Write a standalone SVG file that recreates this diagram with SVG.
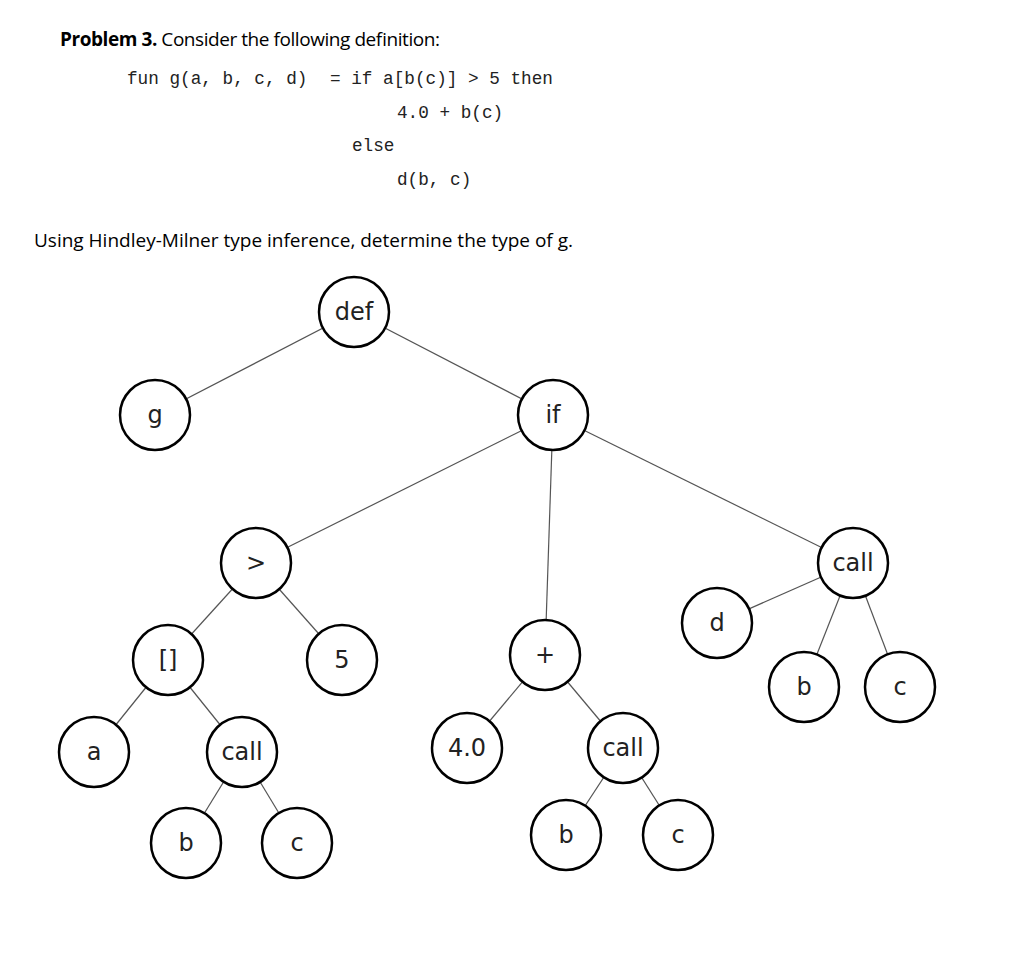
<svg xmlns="http://www.w3.org/2000/svg" width="1024" height="972" viewBox="0 0 1024 972">
<style>
.n circle{fill:#fff;stroke:#000;stroke-width:2.5}
.n text{font-family:"DejaVu Sans",sans-serif;font-size:24px;text-anchor:middle;fill:#222}
.code{font-family:"Liberation Mono",monospace;font-size:17.7px;fill:#222}
.hd{font-family:"Open Sans","Liberation Sans",sans-serif;font-size:19px;fill:#000}
#edges line{stroke:#555;stroke-width:1.2}
</style>
<rect width="1024" height="972" fill="#fff"/>
<text class="hd" x="60" y="46" textLength="380"><tspan font-weight="bold">Problem 3.</tspan> Consider the following definition:</text>
<text class="code" x="127" y="84">fun g(a, b, c, d)</text>
<text class="code" x="330" y="84">= if a[b(c)] &gt; 5 then</text>
<text class="code" x="397" y="118">4.0 + b(c)</text>
<text class="code" x="352" y="151">else</text>
<text class="code" x="397" y="185">d(b, c)</text>
<text class="hd" x="34" y="247">Using Hindley-Milner type inference, determine the type of g.</text>
<g id="edges">
<line x1="354" y1="312" x2="155" y2="415"/>
<line x1="354" y1="312" x2="553" y2="415"/>
<line x1="553" y1="415" x2="256" y2="563"/>
<line x1="553" y1="415" x2="545" y2="655"/>
<line x1="553" y1="415" x2="853" y2="563"/>
<line x1="256" y1="563" x2="168" y2="660"/>
<line x1="256" y1="563" x2="342" y2="660"/>
<line x1="168" y1="660" x2="94" y2="752"/>
<line x1="168" y1="660" x2="242" y2="752"/>
<line x1="242" y1="752" x2="186" y2="843"/>
<line x1="242" y1="752" x2="297" y2="843"/>
<line x1="545" y1="655" x2="467" y2="748"/>
<line x1="545" y1="655" x2="623" y2="748"/>
<line x1="623" y1="748" x2="566" y2="835"/>
<line x1="623" y1="748" x2="678" y2="835"/>
<line x1="853" y1="563" x2="717" y2="623"/>
<line x1="853" y1="563" x2="804" y2="687"/>
<line x1="853" y1="563" x2="900" y2="687"/>
</g>
<g id="def" class="n"><circle cx="354" cy="312" r="35"/><text x="354" y="320">def</text></g>
<g id="g" class="n"><circle cx="155" cy="415" r="35"/><text x="155" y="423">g</text></g>
<g id="if" class="n"><circle cx="553" cy="415" r="35"/><text x="553" y="423">if</text></g>
<g id="gt" class="n"><circle cx="256" cy="563" r="35"/><text x="256" y="571">&gt;</text></g>
<g id="call3" class="n"><circle cx="853" cy="563" r="35"/><text x="853" y="571">call</text></g>
<g id="d" class="n"><circle cx="717" cy="623" r="35"/><text x="717" y="631">d</text></g>
<g id="idx" class="n"><circle cx="168" cy="660" r="35"/><text x="168" y="668">[]</text></g>
<g id="five" class="n"><circle cx="342" cy="660" r="35"/><text x="342" y="668">5</text></g>
<g id="plus" class="n"><circle cx="545" cy="655" r="35"/><text x="545" y="663">+</text></g>
<g id="b3" class="n"><circle cx="804" cy="687" r="35"/><text x="804" y="695">b</text></g>
<g id="c3" class="n"><circle cx="900" cy="687" r="35"/><text x="900" y="695">c</text></g>
<g id="a" class="n"><circle cx="94" cy="752" r="35"/><text x="94" y="760">a</text></g>
<g id="call1" class="n"><circle cx="242" cy="752" r="35"/><text x="242" y="760">call</text></g>
<g id="f40" class="n"><circle cx="467" cy="748" r="35"/><text x="467" y="756">4.0</text></g>
<g id="call2" class="n"><circle cx="623" cy="748" r="35"/><text x="623" y="756">call</text></g>
<g id="b1" class="n"><circle cx="186" cy="843" r="35"/><text x="186" y="851">b</text></g>
<g id="c1" class="n"><circle cx="297" cy="843" r="35"/><text x="297" y="851">c</text></g>
<g id="b2" class="n"><circle cx="566" cy="835" r="35"/><text x="566" y="843">b</text></g>
<g id="c2" class="n"><circle cx="678" cy="835" r="35"/><text x="678" y="843">c</text></g>
</svg>
